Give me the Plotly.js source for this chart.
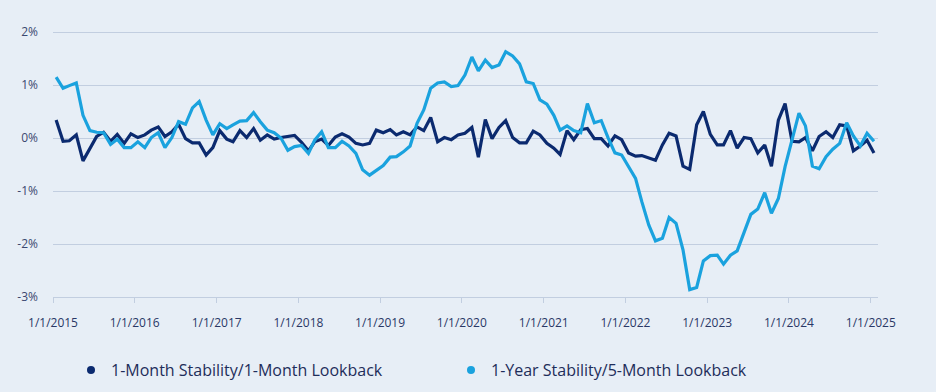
<!DOCTYPE html>
<html>
<head>
<meta charset="utf-8">
<script src="https://cdn.plot.ly/plotly-3.0.1.min.js"></script>
<style>html,body{margin:0;padding:0;background:#e7eef6;}#chart{width:936px;height:392px;}</style>
</head>
<body>
<div id="chart"></div>
<script>
// Monthly observations, Jan 2015 – Jan 2025 (percent)
const startYear = 2015, startMonth = 1, nMonths = 121;
const oneMonthStability = [
 0.34,-0.06,-0.05,0.06,-0.43,-0.21,0.03,0.11,-0.06,0.07,-0.10,0.08,
 0.01,0.06,0.15,0.21,0.03,0.12,0.26,-0.01,-0.09,-0.09,-0.32,-0.18,
 0.14,-0.02,-0.07,0.14,0.01,0.18,-0.04,0.06,-0.02,0.01,0.03,0.05,
 -0.08,-0.24,-0.07,-0.02,-0.14,0.02,0.08,0.02,-0.10,-0.13,-0.10,0.15,
 0.10,0.16,0.06,0.12,0.06,0.21,0.14,0.39,-0.07,0.01,-0.03,0.06,
 0.09,0.20,-0.36,0.35,-0.01,0.20,0.33,0.01,-0.09,-0.09,0.13,0.06,
 -0.10,-0.19,-0.31,0.14,-0.03,0.16,0.18,-0.01,-0.01,-0.15,0.04,-0.03,
 -0.28,-0.34,-0.33,-0.38,-0.42,-0.13,0.09,0.04,-0.53,-0.59,0.25,0.50,
 0.07,-0.13,-0.13,0.14,-0.19,0.01,-0.01,-0.28,-0.13,-0.53,0.34,0.65,
 -0.06,-0.07,0.01,-0.24,0.03,0.12,0.01,0.25,0.23,-0.24,-0.15,-0.04,
 -0.28
];
const oneYearStability = [
 1.15,0.94,0.99,1.04,0.43,0.14,0.11,0.10,-0.12,-0.02,-0.18,-0.18,
 -0.07,-0.18,0.01,0.10,-0.18,0.01,0.31,0.26,0.57,0.69,0.34,0.06,
 0.27,0.18,0.25,0.32,0.33,0.48,0.31,0.15,0.10,0.00,-0.23,-0.16,
 -0.14,-0.29,-0.04,0.12,-0.18,-0.18,-0.06,-0.15,-0.29,-0.60,-0.70,-0.62,
 -0.52,-0.36,-0.35,-0.26,-0.15,0.28,0.53,0.94,1.04,1.06,0.97,0.99,
 1.19,1.53,1.27,1.47,1.33,1.38,1.63,1.55,1.40,1.06,1.03,0.72,
 0.64,0.43,0.15,0.23,0.14,0.10,0.65,0.29,0.33,0.01,-0.28,-0.32,
 -0.54,-0.76,-1.20,-1.64,-1.94,-1.89,-1.50,-1.61,-2.11,-2.86,-2.82,-2.32,
 -2.22,-2.21,-2.38,-2.21,-2.13,-1.79,-1.44,-1.34,-1.03,-1.42,-1.14,-0.54,
 -0.01,0.47,0.23,-0.53,-0.58,-0.35,-0.21,-0.10,0.29,0.04,-0.15,0.09,
 -0.06
];
const seriesNames = ['1-Month Stability/1-Month Lookback', '1-Year Stability/5-Month Lookback'];
const xTickVals = ['2015-01-01','2016-01-01','2017-01-01','2018-01-01','2019-01-01','2020-01-01','2021-01-01','2022-01-01','2023-01-01','2024-01-01','2025-01-01'];
const xTickText = ['1/1/2015','1/1/2016','1/1/2017','1/1/2018','1/1/2019','1/1/2020','1/1/2021','1/1/2022','1/1/2023','1/1/2024','1/1/2025'];
const yTickVals = [-3,-2,-1,0,1,2];
const yTickText = ['-3%','-2%','-1%','0%','1%','2%'];

const dates = [];
for (let i = 0; i < nMonths; i++) {
  const y = startYear + Math.floor((startMonth - 1 + i) / 12);
  const m = ((startMonth - 1 + i) % 12) + 1;
  dates.push(y + '-' + String(m).padStart(2, '0') + '-15');
}

const darkColor = '#0b2a6f';
const lightColor = '#1aa2de';
const gridColor = '#c2cee0';
const font = 'Open Sans, Noto Sans, sans-serif';

const traces = [
  {x: dates, y: oneMonthStability, type: 'scatter', mode: 'lines', line: {color: darkColor, width: 3.2}, showlegend: false, name: seriesNames[0]},
  {x: dates, y: oneYearStability, type: 'scatter', mode: 'lines', line: {color: lightColor, width: 3.2}, showlegend: false, name: seriesNames[1]},
  {x: [null], y: [null], type: 'scatter', mode: 'markers', marker: {color: darkColor, size: 8}, name: seriesNames[0], legend: 'legend'},
  {x: [null], y: [null], type: 'scatter', mode: 'markers', marker: {color: lightColor, size: 8}, name: seriesNames[1], legend: 'legend2'}
];

const legendFont = {family: font, size: 16, color: '#1e2d5a'};
const layout = {
  width: 936, height: 392,
  paper_bgcolor: '#e7eef6', plot_bgcolor: '#e7eef6',
  margin: {l: 53, r: 58, t: 30, b: 95},
  xaxis: {
    type: 'date', range: ['2015-01-01', '2025-02-02'],
    tickmode: 'array', tickvals: xTickVals, ticktext: xTickText,
    showgrid: false, zeroline: false, showline: true, linecolor: gridColor, linewidth: 1,
    ticks: 'outside', ticklen: 5, tickcolor: gridColor, tickwidth: 1,
    tickfont: {family: font, size: 12, color: '#2a3866'}, ticklabelstandoff: 10
  },
  yaxis: {
    range: [-3, 2.04], tickmode: 'array', tickvals: yTickVals, ticktext: yTickText,
    showgrid: true, gridcolor: gridColor, gridwidth: 1, zeroline: false, showline: false,
    tickfont: {family: font, size: 12, color: '#3b4870'}, ticklabelstandoff: 14
  },
  legend: {xref: 'container', yref: 'container', x: 71/936, y: 1 - 370/392, xanchor: 'left', yanchor: 'middle', orientation: 'h', font: legendFont, bgcolor: 'rgba(0,0,0,0)'},
  legend2: {xref: 'container', yref: 'container', x: 451/936, y: 1 - 370/392, xanchor: 'left', yanchor: 'middle', orientation: 'h', font: legendFont, bgcolor: 'rgba(0,0,0,0)'},
  showlegend: true
};

Plotly.newPlot('chart', traces, layout, {displayModeBar: false, staticPlot: true});
</script>
</body>
</html>
